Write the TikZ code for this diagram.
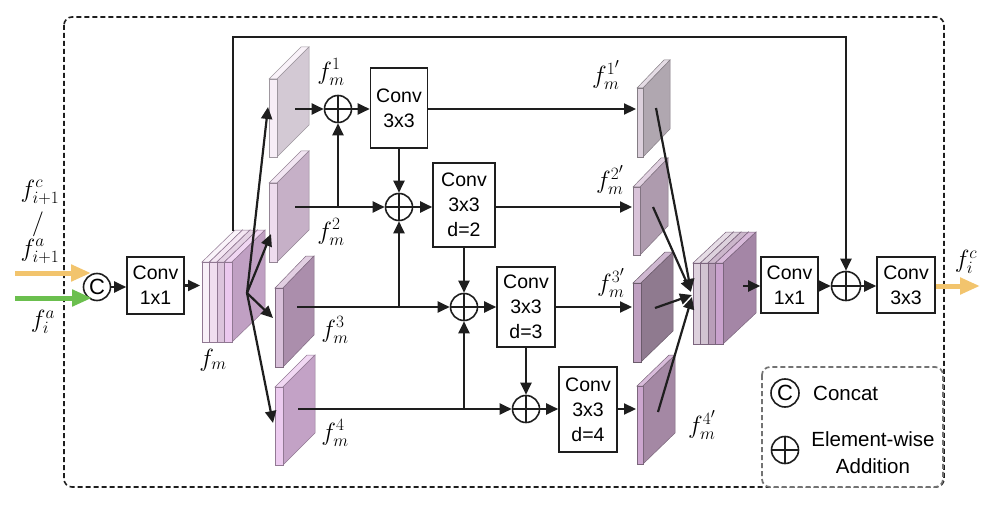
\documentclass[tikz,border=0pt]{standalone}
\usepackage[no-math]{fontspec}
\setmainfont{Liberation Sans}
\usetikzlibrary{arrows.meta}
\definecolor{lnc}{HTML}{1E1E1E}
\definecolor{yel}{HTML}{F2C46D}
\definecolor{grn}{HTML}{6BBF4E}
% branch sheets
\definecolor{sAf}{HTML}{F7EEF7}\definecolor{sAs}{HTML}{D3C9D4}
\definecolor{sBf}{HTML}{EEDCEE}\definecolor{sBs}{HTML}{C6B0C7}
\definecolor{sCf}{HTML}{D8BFD9}\definecolor{sCs}{HTML}{AB8EAC}
\definecolor{sDf}{HTML}{ECCBEF}\definecolor{sDs}{HTML}{C3A2C6}
% output sheets
\definecolor{tAf}{HTML}{DCD0DC}\definecolor{tAs}{HTML}{B0A7B0}
\definecolor{tBf}{HTML}{D9C3D9}\definecolor{tBs}{HTML}{AE9BAE}
\definecolor{tCf}{HTML}{BFA0C1}\definecolor{tCs}{HTML}{8F7A8F}
\definecolor{tDf}{HTML}{CCA6CF}\definecolor{tDs}{HTML}{A488A4}
% fm block
\definecolor{mA}{HTML}{F8F0F8}\definecolor{mB}{HTML}{F0DEEF}
\definecolor{mC}{HTML}{DCC4DC}\definecolor{mD}{HTML}{EBC8EE}
\definecolor{mS}{HTML}{C0A0C3}
% concat block
\definecolor{kA}{HTML}{DDD1DD}\definecolor{kB}{HTML}{D1C3D1}
\definecolor{kC}{HTML}{B99EB9}\definecolor{kD}{HTML}{C9A2CD}
\definecolor{kS}{HTML}{A486A6}
% slab: x y w h dx dy frontcolor sidecolor
\newcommand\slab[8]{%
  \filldraw[fill=#7!75!white, draw=#8!75!black, line width=0.5pt]
    (#1,#2) -- ++(#5,-#6) -- ++(#3,0) -- ++(-#5,#6) -- cycle;
  \filldraw[fill=#8, draw=#8!75!black, line width=0.5pt]
    (#1+#3,#2) -- ++(#5,-#6) -- ++(0,#4) -- ++(-#5,#6) -- cycle;
  \filldraw[fill=#7, draw=#8!75!black, line width=0.5pt]
    (#1,#2) rectangle ++(#3,#4);
}
\begin{document}
\begin{tikzpicture}[x=1pt,y=-1pt,
  conv/.style={draw=lnc, line width=1.6pt, fill=white, align=center, inner sep=0pt,
    font=\fontsize{19.5}{25}\selectfont},
  pluscirc/.style={circle, draw=lnc, line width=1.6pt, minimum size=27pt, inner sep=0pt,
    path picture={\draw[lnc, line width=1.6pt]
      (path picture bounding box.north) -- (path picture bounding box.south)
      (path picture bounding box.west) -- (path picture bounding box.east);}},
  catcirc/.style={circle, draw=lnc, line width=1.6pt, minimum size=27pt, inner sep=0pt,
    font=\fontsize{22}{22}\selectfont},
  arr/.style={draw=lnc, line width=2.2pt, -{Triangle[length=12pt,width=11pt]}},
  fat/.style={line width=5pt, -{Triangle[length=20pt,width=16pt]}},
  lab/.style={inner sep=0pt, font=\fontsize{27}{30}\selectfont},
  leg/.style={inner sep=0pt, align=center, font=\fontsize{20.5}{27}\selectfont}
]
\useasboundingbox (0,0) rectangle (998,513);

% frames
\draw[lnc, line width=1.6pt, dashed, dash pattern=on 5pt off 3pt, rounded corners=8pt]
  (64,17) rectangle (944,487);
\draw[black!55, line width=1.7pt, dashed, dash pattern=on 5pt off 3pt, rounded corners=8pt, fill=white]
  (762,367) rectangle (943,487);

% skip connection
\coordinate (sk) at (233,231);
\coordinate (skt) at (233,37);

% fm block
\slab{202}{262}{7.5}{80}{33}{32}{mA}{mS}
\slab{209.5}{262}{7.5}{80}{33}{32}{mB}{mS}
\slab{217}{262}{7.5}{80}{33}{32}{mC}{mS}
\slab{224.5}{262}{7.5}{80}{33}{32}{mD}{mS}

% branch sheets
\slab{269}{79}{8}{78}{32}{32}{sAf}{sAs}
\slab{269}{183}{8}{79}{32}{32}{sBf}{sBs}
\slab{275}{288}{8}{79}{31}{32}{sCf}{sCs}
\slab{275}{387}{8}{78}{32}{32}{sDf}{sDs}

% output sheets
\slab{637}{88}{6}{69}{27}{28}{tAf}{tAs}
\slab{633}{187}{7}{68}{28}{29}{tBf}{tBs}
\slab{633}{283}{8}{79}{32}{31}{tCf}{tCs}
\slab{637}{386}{6}{78}{32}{31}{tDf}{tDs}

% concat block
\slab{693}{263}{7.5}{81}{33}{31}{kA}{kS}
\slab{700.5}{263}{7.5}{81}{33}{31}{kB}{kS}
\slab{708}{263}{7.5}{81}{33}{31}{kC}{kS}
\slab{715.5}{263}{7.5}{81}{33}{31}{kD}{kS}

% nodes
\node[catcirc] (cc) at (97,287) {C};
\node[conv, minimum width=57pt, minimum height=57pt] (c0) at (155.5,285.5) {Conv\\1x1};
\node[conv, minimum width=57pt, minimum height=80pt] (c1) at (399,108) {Conv\\3x3};
\node[conv, minimum width=62pt, minimum height=84pt] (c2) at (464,205) {Conv\\3x3\\d=2};
\node[conv, minimum width=58pt, minimum height=80pt] (c3) at (526,307) {Conv\\3x3\\d=3};
\node[conv, minimum width=58pt, minimum height=85pt] (c4) at (588,409.5) {Conv\\3x3\\d=4};
\node[conv, minimum width=57pt, minimum height=56pt] (c5) at (789.5,285) {Conv\\1x1};
\node[conv, minimum width=58pt, minimum height=56pt] (c6) at (906,285) {Conv\\3x3};

\node[pluscirc] (p1) at (338,109) {};
\node[pluscirc] (p2) at (399,207) {};
\node[pluscirc] (p3) at (464,307) {};
\node[pluscirc] (p4) at (526,409) {};
\node[pluscirc, minimum size=29pt] (p5) at (846,286) {};

% inputs
\coordinate (yin) at (15,273);
\coordinate (yout) at (91,273);
\coordinate (gin) at (15,298);
\coordinate (gout) at (92,298);
\draw[fat, yel] (yin) -- (yout);
\draw[fat, grn] (gin) -- (gout);
\coordinate (fin) at (200,285.5);
\draw[arr] (cc.east) -- (c0.west |- cc.east);
\draw[arr] (c0.east) -- (fin);

% split from fm
\coordinate (J) at (247,293);
\coordinate (a1) at (268,107);
\coordinate (a2) at (271,234);
\coordinate (a3) at (273,318);
\coordinate (a4) at (273,423);
\draw[arr] (J) -- (a1);
\draw[arr] (J) -- (a2);
\draw[arr] (J) -- (a3);
\draw[arr] (J) -- (a4);

% skip
\draw[arr] (sk) -- (skt) -| (p5.north);

% branch lines
\coordinate (s1) at (295,109);
\coordinate (s2) at (295,207);
\coordinate (s3) at (297,307);
\coordinate (s4) at (298,409);
\draw[arr] (s1) -- (p1.west);
\draw[arr] (s2) -- (p2.west);
\draw[arr] (s3) -- (p3.west);
\draw[arr] (s4) -- (p4.west);
\draw[arr] (p1 |- s2) -- (p1.south);
\draw[arr] (p2 |- s3) -- (p2.south);
\draw[arr] (p3 |- s4) -- (p3.south);

\draw[arr] (p1.east) -- (c1.west |- p1.east);
\draw[arr] (p2.east) -- (c2.west |- p2.east);
\draw[arr] (p3.east) -- (c3.west |- p3.east);
\draw[arr] (p4.east) -- (c4.west |- p4.east);
\draw[arr] (c1.south) -- (p2.north);
\draw[arr] (c2.south) -- (p3.north);
\draw[arr] (c3.south) -- (p4.north);

% outputs to f'
\coordinate (e1) at (636,109);
\coordinate (e2) at (632,207);
\coordinate (e3) at (632,307);
\coordinate (e4) at (636,409);
\draw[arr] (c1.east |- e1) -- (e1);
\draw[arr] (c2.east |- e2) -- (e2);
\draw[arr] (c3.east |- e3) -- (e3);
\draw[arr] (c4.east |- e4) -- (e4);

% f' to concat block
\coordinate (b1) at (656,108);
\coordinate (b2) at (653,207);
\coordinate (b3) at (655,308);
\coordinate (b4) at (658,412);
\coordinate (q1) at (691,291);
\coordinate (q2) at (691,292);
\coordinate (q3) at (692,295);
\coordinate (q4) at (692,297);
\draw[arr] (b1) -- (q1);
\draw[arr] (b2) -- (q2);
\draw[arr] (b3) -- (q3);
\draw[arr] (b4) -- (q4);

\coordinate (kout) at (743,286);
\draw[arr] (kout) -- (c5.west |- kout);
\draw[arr] (c5.east |- p5) -- (p5.west);
\draw[arr] (p5.east) -- (c6.west |- p5.east);
\coordinate (fo) at (980,286);
\draw[fat, yel] (c6.east |- fo) -- (fo);

% labels
\node[lab] (l1) at (40,192) {$f^c_{i+1}$};
\node[lab] (l2) at (38,224) {$/$};
\node[lab] (l3) at (40,251) {$f^a_{i+1}$};
\node[lab] (l4) at (43,322) {$f^a_i$};
\node[lab] (lm) at (213,360) {$f_m$};
\node[lab] (lm1) at (331,72) {$f_m^1$};
\node[lab] (lm2) at (331,232) {$f_m^2$};
\node[lab] (lm3) at (335,330) {$f_m^3$};
\node[lab] (lm4) at (335,433) {$f_m^4$};
\node[lab] (lo1) at (606,75) {$f_m^{1'}$};
\node[lab] (lo2) at (610,180) {$f_m^{2'}$};
\node[lab] (lo3) at (611,283) {$f_m^{3'}$};
\node[lab] (lo4) at (702,425) {$f_m^{4'}$};
\node[lab] (lout) at (966,262) {$f_i^c$};

% legend
\node[catcirc, minimum size=28pt] (lc) at (785,393) {C};
\node[leg, anchor=west] (lct) at (813,393) {Concat};
\node[pluscirc] (lp) at (785,450) {};
\node[leg] (lpt) at (873,453) {Element-wise\\Addition};
\end{tikzpicture}
\end{document}
